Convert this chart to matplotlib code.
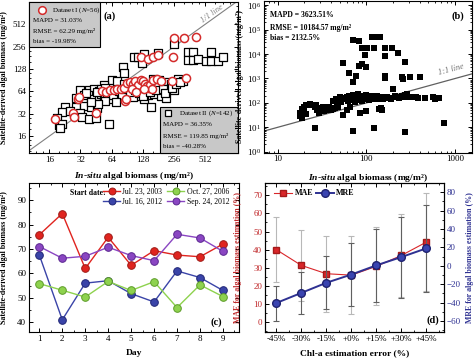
import numpy as np
import matplotlib
matplotlib.use('Agg')
import matplotlib.pyplot as plt
from matplotlib.ticker import FixedLocator, FixedFormatter, LogLocator, NullFormatter, MultipleLocator, FuncFormatter
from matplotlib.patches import Rectangle

plt.rcParams['font.family'] = ['Liberation Serif', 'DejaVu Serif']
plt.rcParams['mathtext.fontset'] = 'custom'
plt.rcParams['mathtext.rm'] = 'Liberation Serif'
plt.rcParams['mathtext.it'] = 'Liberation Serif:italic:bold'
plt.rcParams['mathtext.sf'] = 'Liberation Serif:italic'
plt.rcParams['mathtext.bf'] = 'Liberation Serif:bold'
for ax_ in ('xtick', 'ytick'):
    plt.rcParams[f'{ax_}.direction'] = 'in'
    plt.rcParams[f'{ax_}.major.size'] = 3
    plt.rcParams[f'{ax_}.minor.size'] = 1.6
    plt.rcParams[f'{ax_}.major.width'] = 0.7
    plt.rcParams[f'{ax_}.minor.width'] = 0.6
    plt.rcParams[f'{ax_}.labelsize'] = 6.5
    plt.rcParams[f'{ax_}.major.pad'] = 2
plt.rcParams['xtick.top'] = True
plt.rcParams['ytick.right'] = True
plt.rcParams['axes.linewidth'] = 0.8

# ---------------- data ----------------
# Panel (a) Dataset II (black squares)
a_ds2_x = [256, 347, 388, 585, 347, 388, 434, 524, 585, 680, 760,
           105, 116, 132, 126, 179, 83, 84,
           60, 153,
           65, 72, 159, 185, 222, 278, 311,
           54, 84, 102, 123, 178, 239,
           32, 38.6, 43, 48, 50, 70, 94.5, 142, 185, 231, 258,
           34.5, 41.6, 44.7, 50, 62.6, 72.5, 91, 114, 142, 165, 191,
           28.7, 40, 53.9, 62.6, 81, 102, 132, 214,
           22.9, 28.7, 34.5, 40, 46.5,
           21.3, 25.6, 32,
           19, 33.2, 38.6, 44.7,
           19.7, 21.3, 20.5,
           36, 46, 55, 58, 66, 76, 80, 88, 96, 108, 118, 128, 150, 170, 200,
           210, 245, 265, 290, 55, 70, 47, 40]
a_ds2_y = [280, 219, 219, 219, 169, 169, 172, 164, 164, 164, 184,
           188, 188, 202, 152, 208, 138, 112,
           23, 39,
           92, 88, 95, 90, 86, 93, 89,
           78, 80, 76, 79, 77, 81,
           67, 66, 69, 65, 68, 66, 70, 67, 64, 68, 66,
           57, 58, 55, 59, 56, 57, 58, 55, 57, 59, 56,
           52, 51, 53, 50, 52, 53, 51, 52,
           40, 39, 41, 40, 38,
           34, 35, 33,
           28, 29, 27, 28,
           22.5, 23, 20.3,
           60, 62, 72, 60, 58, 64, 58, 70, 62, 66, 60, 55, 62, 66, 70,
           60, 72, 80, 85, 48, 46, 44, 46]

# Panel (a) Dataset I (red circles)
a_ds1_x = [254, 318, 413,
           123, 142, 159, 178, 249,
           52, 56, 62, 68, 72, 78, 84, 86, 88, 90, 96, 102, 108, 115, 122,
           128, 134, 140, 146, 150, 156, 162, 175, 192, 245, 335, 100, 130, 110,
           18, 27, 28, 30, 31, 45]
a_ds1_y = [331, 331, 340,
           186, 173, 184, 198, 184,
           65, 62, 67, 66, 68, 70, 72, 48, 50, 82, 86, 80, 88, 78, 92,
           88, 80, 76, 72, 78, 70, 90, 94, 88, 88, 96, 68, 70, 62,
           27, 33, 29, 50, 53, 33]

a_ticks = [16, 32, 64, 128, 256, 512]

# Panel (b)
b_x = [18, 18, 19, 19, 20, 21, 22, 23, 24, 20, 21, 26, 27, 28, 29, 30, 32, 33, 35, 36,
       38, 40, 42, 44, 46, 48,
       42, 45, 48, 50, 52, 55, 58, 60, 62, 64, 66, 68, 70, 72, 74, 76, 78, 80, 82, 84,
       86, 88, 90, 92, 95, 98, 100, 104, 108, 112, 116, 120, 125, 130, 135, 140, 145,
       150, 155, 160, 170, 180, 190, 200, 210, 220, 230, 240, 250, 260, 270, 280, 290,
       300, 330, 360, 380, 460, 560, 600, 660,
       55, 60, 65, 140, 145, 150, 85, 100,
       26, 70, 123, 270, 750,
       54, 64, 70, 76, 83, 88, 100, 70, 83, 88, 102, 123, 160, 196, 97, 160, 227,
       117, 129, 141, 160, 160, 250, 260, 310, 400, 270]
b_y = [40, 30, 55, 25, 70, 80, 85, 90, 85, 45, 35, 70, 80, 50, 40, 60, 70, 45, 55, 50,
       65, 50, 55, 60, 80, 70,
       120, 150, 130, 170, 110, 160, 140, 180, 120, 200, 150, 130, 220, 170, 110, 190,
       150, 240, 130, 170, 200, 120, 160, 180, 140, 210, 150, 170, 130, 190, 160, 140,
       175, 200, 150, 160, 180, 170, 140, 165, 180, 160, 150, 360, 190, 170, 160, 180,
       200, 170, 210, 190, 230, 170, 175, 170, 160, 160, 170, 150, 155,
       32, 50, 70, 55, 60, 50, 40, 45,
       9, 7.2, 9.5, 6.6, 15.5,
       4200, 1730, 740, 1260, 3300, 4000, 3000, 37000, 34000, 17300, 17300, 17300,
       17300, 17300, 9000, 8300, 10700,
       51500, 48000, 51500, 1260, 1060, 1190, 950, 1120, 1120, 4900]

# Panel (c)
c_days = [1, 2, 3, 4, 5, 6, 7, 8, 9]
c_jul2003 = [75.8, 84.5, 62.0, 74.8, 63.3, 69.3, 67.5, 66.8, 72.0]
c_oct2006 = [55.8, 53.1, 50.3, 56.7, 53.0, 56.6, 46.0, 55.3, 50.5]
c_jul2012 = [67.5, 41.0, 56.0, 57.0, 51.7, 48.3, 61.0, 58.3, 53.0]
c_sep2012 = [71.0, 66.2, 67.0, 70.7, 67.3, 65.2, 76.0, 74.5, 69.0]

# Panel (d)
d_labels = ['-45%', '-30%', '-15%', '+0%', '+15%', '+30%', '+45%']
d_mae = [40.0, 31.3, 26.7, 25.9, 30.8, 36.8, 44.2]
d_mae_err = [18, 19.5, 21, 21.5, 21.5, 23, 27]
d_mre = [-40.5, -29.5, -18.5, -9.5, 0.5, 9.5, 19.0]
d_mre_err = [19, 23, 29, 34, 40, 44, 47]

# ---------------- figure ----------------
W, H = 474, 358
fig = plt.figure(figsize=(W / 100, H / 100), dpi=100)

def box(l, r, t, b):
    return [l / W, (H - b) / H, (r - l) / W, (b - t) / H]

ax_a = fig.add_axes(box(29, 238, 2, 153))
ax_b = fig.add_axes(box(264, 472, 1, 152.7))
ax_c = fig.add_axes(box(29, 239, 183, 332))
ax_d = fig.add_axes(box(265, 444, 183, 332))

lab_fs = 6.8
ylab_fs = 5.7

# ---- panel a ----
ax = ax_a
ax.set_xscale('log', base=2)
ax.set_yscale('log', base=2)
ax.set_xlim(10.2, 1060)
ax.set_ylim(9.5, 1020)
for axis in (ax.xaxis, ax.yaxis):
    axis.set_major_locator(FixedLocator(a_ticks))
    axis.set_major_formatter(FixedFormatter([str(t) for t in a_ticks]))
    axis.set_minor_locator(LogLocator(base=2, subs=(1.25, 1.5, 1.75), numticks=30))
    axis.set_minor_formatter(NullFormatter())
ax.axline((10, 10), (1000, 1000), color='#808080', lw=0.8, zorder=1)
ax.scatter(a_ds2_x, a_ds2_y, marker='s', s=26, facecolors='white', edgecolors='black',
           linewidths=0.9, zorder=2)
ax.scatter(a_ds1_x, a_ds1_y, marker='o', s=34, facecolors='white', edgecolors='#d42a2a',
           linewidths=1.1, zorder=3)
ax.text(0.875, 0.925, '1/1 line', transform=ax.transAxes, rotation=36, color='#808080',
        fontsize=6, style='italic', ha='center', va='center')
ax.text(0.385, 0.905, '(a)', transform=ax.transAxes, fontsize=7.5, fontweight='bold',
        ha='center', va='center')
# stats box 1
ax.add_patch(Rectangle((0, 0.70), 0.34, 0.30, transform=ax.transAxes, facecolor='#c8c8c8',
                       edgecolor='black', lw=0.8, zorder=5, clip_on=False))
ax.plot([0.06], [0.945], transform=ax.transAxes, marker='o', ms=5.5, mfc='white',
        mec='#d42a2a', mew=1.1, zorder=6, clip_on=False)
ax.text(0.11, 0.945, r'Dataset I ($\mathsf{N}$=56)', transform=ax.transAxes, fontsize=5.0,
        va='center', zorder=6)
ax.text(0.02, 0.875, 'MAPD = 31.03%', transform=ax.transAxes, fontsize=5.0, va='center', zorder=6)
ax.text(0.02, 0.805, 'RMSE = 62.29 mg/m²', transform=ax.transAxes, fontsize=5.0, va='center', zorder=6)
ax.text(0.02, 0.74, 'bias = -19.98%', transform=ax.transAxes, fontsize=5.0, va='center', zorder=6)
# stats box 2
ax.add_patch(Rectangle((0.627, 0.0), 0.373, 0.305, transform=ax.transAxes, facecolor='#c8c8c8',
                       edgecolor='black', lw=0.8, zorder=5, clip_on=False))
ax.plot([0.665], [0.265], transform=ax.transAxes, marker='s', ms=5, mfc='white',
        mec='black', mew=0.9, zorder=6, clip_on=False)
ax.text(0.72, 0.265, r'Dataset II ($\mathsf{N}$=142)', transform=ax.transAxes, fontsize=5.0,
        va='center', zorder=6)
ax.text(0.64, 0.19, 'MAPD = 36.35%', transform=ax.transAxes, fontsize=5.0, va='center', zorder=6)
ax.text(0.64, 0.115, 'RMSE = 119.85 mg/m²', transform=ax.transAxes, fontsize=5.0, va='center', zorder=6)
ax.text(0.64, 0.045, 'bias = -40.28%', transform=ax.transAxes, fontsize=5.0, va='center', zorder=6)
ax.set_ylabel('Satellite-derived algal biomass (mg/m²)', fontsize=ylab_fs, fontweight='bold')
ax.yaxis.set_label_coords(-0.1, 0.5)
ax.set_xlabel(r'$\it{In}$-$\it{situ}$ algal biomass (mg/m²)', fontsize=lab_fs, fontweight='bold')
ax.xaxis.set_label_coords(0.5, -0.115)

# ---- panel b ----
ax = ax_b
ax.set_xscale('log')
ax.set_yscale('log')
ax.set_xlim(7, 1550)
ax.set_ylim(0.91, 1.5e6)
ax.yaxis.set_major_locator(LogLocator(base=10, numticks=10))
ax.yaxis.set_minor_locator(LogLocator(base=10, subs=np.arange(2, 10), numticks=20))
ax.yaxis.set_minor_formatter(NullFormatter())
ax.yaxis.set_major_formatter(FuncFormatter(lambda v, p: r'$10^{%d}$' % round(np.log10(v))))
ax.xaxis.set_major_formatter(FuncFormatter(lambda v, p: '%d' % v))
ax.xaxis.set_minor_formatter(NullFormatter())
ax.axline((10, 10), (1000, 1000), color='#606060', lw=0.9, zorder=1)
ax.scatter(b_x, b_y, marker='s', s=14, color='black', linewidths=0, zorder=2)
ax.text(0.9, 0.545, '1:1 line', transform=ax.transAxes, rotation=15, color='#707070',
        fontsize=6, style='italic', ha='center', va='center')
ax.text(0.93, 0.9, '(b)', transform=ax.transAxes, fontsize=7.5, fontweight='bold',
        ha='center', va='center')
ax.text(0.03, 0.905, 'MAPD = 3623.51%', transform=ax.transAxes, fontsize=5.5,
        fontweight='bold', va='center')
ax.text(0.03, 0.82, 'RMSE = 10184.57 mg/m²', transform=ax.transAxes, fontsize=5.5,
        fontweight='bold', va='center')
ax.text(0.03, 0.758, 'bias = 2132.5%', transform=ax.transAxes, fontsize=5.5,
        fontweight='bold', va='center')
ax.set_ylabel('Satellite-derived algal biomass (mg/m²)', fontsize=ylab_fs, fontweight='bold')
ax.yaxis.set_label_coords(-0.095, 0.5)
ax.set_xlabel(r'$\it{In}$-$\it{situ}$ algal biomass (mg/m²)', fontsize=lab_fs, fontweight='bold')
ax.xaxis.set_label_coords(0.5, -0.125)

# ---- panel c ----
ax = ax_c
series = [
    (c_jul2003, 'Jul. 23, 2003', '#e0241f', '#9e1a16'),
    (c_jul2012, 'Jul. 16, 2012', '#3a44a8', '#1f2575'),
    (c_oct2006, 'Oct. 27, 2006', '#8ed24e', '#5d9c2a'),
    (c_sep2012, 'Sep. 24, 2012', '#8a46c2', '#5a2790'),
]
for vals, lab, fc, ec in series:
    ax.plot(c_days, vals, '-o', color=fc, mfc=fc, mec=ec, mew=0.7, ms=5.5, lw=1.0, label=lab)
ax.set_xlim(0.55, 9.7)
ax.set_ylim(36, 97)
ax.xaxis.set_major_locator(MultipleLocator(1))
ax.xaxis.set_minor_locator(MultipleLocator(0.5))
ax.yaxis.set_major_locator(MultipleLocator(10))
ax.yaxis.set_minor_locator(MultipleLocator(5))
ax.set_yticks([40, 50, 60, 70, 80, 90])
ax.legend(loc='upper left', bbox_to_anchor=(0.33, 1.0), ncol=2, frameon=False, fontsize=5.6,
          handlelength=2.2, columnspacing=0.6, handletextpad=0.3, borderaxespad=0.2,
          labelspacing=0.3, markerscale=0.9)
ax.text(0.195, 0.935, 'Start date:', transform=ax.transAxes, fontsize=5.6, fontweight='bold',
        va='center')
ax.text(0.894, 0.067, '(c)', transform=ax.transAxes, fontsize=7.5, fontweight='bold',
        ha='center', va='center')
ax.set_ylabel('Satellite-derived algal biomass (mg/m²)', fontsize=ylab_fs, fontweight='bold')
ax.yaxis.set_label_coords(-0.1, 0.5)
ax.set_xlabel('Day', fontsize=lab_fs, fontweight='bold')
ax.xaxis.set_label_coords(0.5, -0.115)

# ---- panel d ----
ax = ax_d
ax2 = ax.twinx()
xi = np.arange(len(d_labels))
ax.errorbar(xi, d_mae, yerr=d_mae_err, fmt='none', ecolor='#b8b8b8', elinewidth=0.8,
            capsize=2.5, capthick=0.8, zorder=1)
ax2.errorbar(xi, d_mre, yerr=d_mre_err, fmt='none', ecolor='#606060', elinewidth=0.8,
             capsize=2.5, capthick=0.8, zorder=1)
l1, = ax.plot(xi, d_mae, '-s', color='#d9262a', mfc='#d9262a', mec='#a51a1a', ms=5, lw=0.8,
              label='MAE', zorder=3)
l2, = ax2.plot(xi, d_mre, '-o', color='#2e3192', mfc='#3a44b0', mec='#1f2270', ms=5.5, lw=1.4,
               label='MRE', zorder=3)
ax.set_xlim(-0.45, 6.7)
ax.set_ylim(-5.5, 76.8)
ax2.set_ylim(-72, 90)
ax.set_xticks(xi)
ax.set_xticklabels(d_labels)
ax.xaxis.set_minor_locator(MultipleLocator(0.5))
ax.yaxis.set_major_locator(MultipleLocator(10))
ax.yaxis.set_minor_locator(MultipleLocator(5))
ax2.yaxis.set_major_locator(MultipleLocator(20))
ax2.yaxis.set_minor_locator(MultipleLocator(10))
ax.tick_params(axis='y', which='both', right=False, labelcolor='#c0282a')
ax2.tick_params(axis='y', which='both', direction='in', labelcolor='#2e3192', labelsize=6.5)
ax2.legend([l1, l2], ['MAE', 'MRE'], loc='upper left', bbox_to_anchor=(0.025, 0.99), ncol=2,
           frameon=False, handlelength=2.2, columnspacing=0.4,
           handletextpad=0.3, borderaxespad=0.2, prop={'weight': 'bold', 'size': 5.8})
ax.text(0.94, 0.08, '(d)', transform=ax.transAxes, fontsize=7.5, fontweight='bold',
        ha='center', va='center')
ax.set_ylabel('MAE for algal biomass estimation (%)', fontsize=ylab_fs, fontweight='bold',
              color='#c0282a')
ax.yaxis.set_label_coords(-0.128, 0.5)
ax2.set_ylabel('MRE for algal biomass estimation (%)', fontsize=ylab_fs, fontweight='bold',
               color='#2e3192')
ax2.yaxis.set_label_coords(1.122, 0.5)
ax.set_xlabel('Chl-a estimation error (%)', fontsize=lab_fs, fontweight='bold')
ax.xaxis.set_label_coords(0.5, -0.115)

fig.savefig('out.png', dpi=100)
